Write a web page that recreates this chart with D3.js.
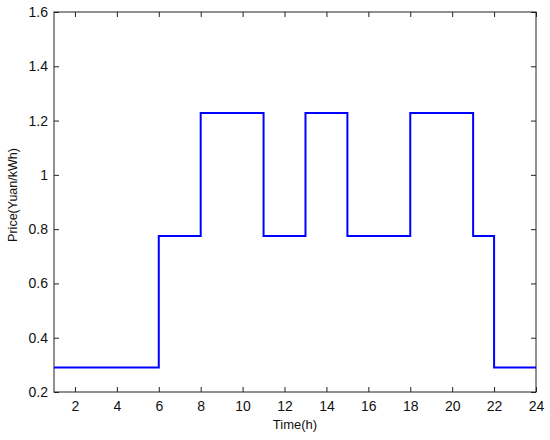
<!DOCTYPE html>
<html>
<head>
<meta charset="utf-8">
<script src="https://cdn.jsdelivr.net/npm/d3@7"></script>
<style>
  body { margin: 0; background: #fff; }
  svg text { font-family: "Liberation Sans", Arial, sans-serif; }
</style>
</head>
<body>
<div id="chart"></div>
<script>
// step points: price holds from each hour until the next one
var hours = [1, 6, 8, 11, 13, 15, 18, 21, 22, 24];
var prices = [0.29, 0.775, 1.228, 0.775, 1.228, 0.775, 1.228, 0.775, 0.29, 0.29];
var xTicks = [2, 4, 6, 8, 10, 12, 14, 16, 18, 20, 22, 24];
var yTicks = [0.2, 0.4, 0.6, 0.8, 1, 1.2, 1.4, 1.6];

var width = 550,
  height = 440,
  margin = { top: 12, right: 14, bottom: 48, left: 54 };
var w = width - margin.left - margin.right,
  h = height - margin.top - margin.bottom;

var svg = d3.select('#chart')
  .append('svg')
  .attr('width', width)
  .attr('height', height);

var g = svg.append('g')
  .attr('transform', 'translate(' + margin.left + ',' + margin.top + ')');

var xScale = d3.scaleLinear().domain([1, 24]).range([0, w]);
var yScale = d3.scaleLinear().domain([0.2, 1.6]).range([h, 0]);

var fmt = function (d) { return d3.format('')(+d.toFixed(1)); };

// inward ticks on all four sides, labels only bottom/left
function styleAxis(sel) {
  sel.select('.domain').remove();
  sel.selectAll('line').attr('stroke', '#222');
  sel.selectAll('text').attr('font-size', 14).attr('fill', '#111');
}

g.append('g')
  .attr('transform', 'translate(0,' + h + ')')
  .call(d3.axisBottom(xScale).tickValues(xTicks).tickSizeInner(-5).tickSizeOuter(0).tickPadding(9))
  .call(styleAxis);

g.append('g')
  .call(d3.axisTop(xScale).tickValues(xTicks).tickSizeInner(-5).tickSizeOuter(0).tickFormat(''))
  .call(styleAxis);

g.append('g')
  .call(d3.axisLeft(yScale).tickValues(yTicks).tickSizeInner(-5).tickSizeOuter(0).tickPadding(6).tickFormat(fmt))
  .call(styleAxis);

g.append('g')
  .attr('transform', 'translate(' + w + ',0)')
  .call(d3.axisRight(yScale).tickValues(yTicks).tickSizeInner(-5).tickSizeOuter(0).tickFormat(''))
  .call(styleAxis);

// frame
g.append('rect')
  .attr('width', w)
  .attr('height', h)
  .attr('fill', 'none')
  .attr('stroke', '#222')
  .attr('stroke-width', 1);

var line = d3.line()
  .x(function (d, i) { return xScale(hours[i]); })
  .y(function (d) { return yScale(d); })
  .curve(d3.curveStepAfter);

g.append('path')
  .datum(prices)
  .attr('d', line)
  .attr('fill', 'none')
  .attr('stroke', '#0000ff')
  .attr('stroke-width', 2);

g.append('text')
  .attr('x', w / 2)
  .attr('y', h + 37)
  .attr('text-anchor', 'middle')
  .attr('font-size', 13)
  .attr('fill', '#111')
  .text('Time(h)');

g.append('text')
  .attr('transform', 'translate(' + (-37) + ',' + (h / 2 - 7) + ') rotate(-90)')
  .attr('text-anchor', 'middle')
  .attr('font-size', 12.5)
  .attr('fill', '#111')
  .text('Price(Yuan/kWh)');
</script>
</body>
</html>
